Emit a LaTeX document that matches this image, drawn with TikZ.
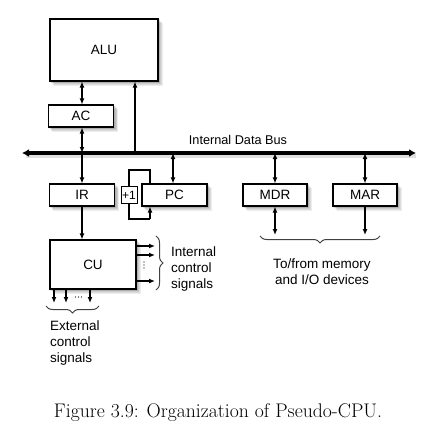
\documentclass[tikz,border=0pt]{standalone}
\usepackage{fontspec}
\newfontfamily\arial{Liberation Sans}
\usetikzlibrary{arrows.meta,backgrounds,decorations.pathreplacing}
\newcommand{\boxshadow}[1]{%
  \foreach \k in {1,1.8,2.6,3.4,4.2}{%
    \fill[black,opacity=0.07] ([shift={(\k,\k)}]#1.north west) rectangle ([shift={(\k,\k)}]#1.south east);}}
\begin{document}
\begin{tikzpicture}[x=1pt,y=-1pt,
  box/.style={draw=black,line width=1.1pt,fill=white,inner sep=0pt,
    font=\arial\fontsize{13.5}{16}\selectfont},
  conn/.style={line width=2pt,line cap=butt},
  tip/.style={-{Latex[length=6pt,width=5pt]}},
  dtip/.style={{Latex[length=6pt,width=5pt]}-{Latex[length=6pt,width=5pt]}},
  loopline/.style={line width=1.1pt},
  lbl/.style={font=\arial\fontsize{13.5}{16}\selectfont,inner sep=0pt},
  brc/.style={draw=black!75,line width=1pt,decorate,decoration={brace,amplitude=7pt}}]
\useasboundingbox (0,0) rectangle (435,436);
% boxes
\node[box,minimum width=108pt,minimum height=62pt] (alu) at (104,50) {ALU};
\node[box,minimum width=65pt,minimum height=22pt] (ac) at (81,116) {AC};
\node[box,minimum width=65pt,minimum height=22pt] (ir) at (82,195) {IR};
\node[box,minimum width=16pt,minimum height=17pt,font=\arial\fontsize{12}{14}\selectfont,line width=0.9pt] (inc) at (129,195) {+1};
\node[box,minimum width=65pt,minimum height=22pt] (pc) at (174.5,195) {PC};
\node[box,minimum width=64pt,minimum height=22pt] (mdr) at (275,195) {MDR};
\node[box,minimum width=64pt,minimum height=22pt] (mar) at (365,195) {MAR};
\node[box,minimum width=86pt,minimum height=49pt] (cu) at (93,264.5) {CU};
\begin{scope}[on background layer]
  \fill[white] (0,0) rectangle (435,436);
  \boxshadow{alu}\boxshadow{ac}\boxshadow{ir}\boxshadow{pc}
  \boxshadow{mdr}\boxshadow{mar}\boxshadow{cu}
\end{scope}
% bus
\coordinate (busL) at (22,153);
\coordinate (busR) at (416,153);
\draw[line width=4pt,black!12] (26,156) -- (416,156);
\draw[line width=4pt,{Latex[length=7pt,width=8pt]}-{Latex[length=7pt,width=8pt]}] (busL) -- (busR);
\node[lbl,font=\arial\fontsize{12.7}{15}\selectfont] (buslbl) at (238,140) {Internal Data Bus};
% connectors
\coordinate (bAC) at (82,153);
\coordinate (bALU) at (135,153);
\coordinate (bPC) at (173,153);
\coordinate (bMDR) at (275,153);
\coordinate (bMAR) at (365,153);
\draw[conn,dtip] (ac.north -| bAC) -- (alu.south -| bAC);
\draw[conn,dtip] (ac.south -| bAC) -- (bAC);
\draw[conn,tip] (bAC) -- (ir.north -| bAC);
\draw[conn,tip] (bALU) -- (alu.south -| bALU);
\draw[conn,dtip] (bPC) -- (pc.north -| bPC);
\draw[conn,dtip] (bMDR) -- (mdr.north);
\draw[conn,dtip] (bMAR) -- (mar.north);
\coordinate (mdrOut) at (275,235);
\coordinate (marOut) at (365,235);
\draw[conn,dtip] (mdr.south) -- (mdrOut);
\draw[conn,tip] (mar.south) -- (marOut);
\draw[conn,tip] (ir.south -| bAC) -- (cu.north -| bAC);
% +1 loop
\coordinate (lpA) at (150,170);
\coordinate (lpB) at (150,219);
\draw[loopline] (pc.north -| lpA) -- (lpA) -- (lpA -| inc.north) -- (inc.north);
\draw[loopline] (inc.south) -- (inc.south |- lpB) -- (lpB);
\draw[conn,tip] (lpB) -- (pc.south -| lpB);
% brace memory
\draw[brc] (380,236) -- (260,236);
\node[lbl,align=center] (memlbl) at (322,272) {To/from memory\\and I/O devices};
% CU internal signals
\coordinate (ci1) at (155,246);
\coordinate (ci2) at (155,255);
\coordinate (ci3) at (155,281);
\draw[line width=1.4pt,tip] (cu.east |- ci1) -- (ci1);
\draw[line width=1.4pt,tip] (cu.east |- ci2) -- (ci2);
\draw[line width=1.4pt,tip] (cu.east |- ci3) -- (ci3);
\foreach \yy in {262,265,268} \fill (144,\yy) circle (0.7pt);
\draw[brc] (156,236) -- (156,290);
\node[lbl,anchor=west,align=left] (intlbl) at (171,269) {Internal\\control\\signals};
% CU external signals
\coordinate (ce1) at (54,303);
\coordinate (ce2) at (66,303);
\coordinate (ce3) at (90,303);
\draw[line width=1.4pt,tip] (cu.south -| ce1) -- (ce1);
\draw[line width=1.4pt,tip] (cu.south -| ce2) -- (ce2);
\draw[line width=1.4pt,tip] (cu.south -| ce3) -- (ce3);
\foreach \xx in {75.5,78.5,81.5} \fill (\xx,297) circle (0.7pt);
\draw[brc] (99,306) -- (46,306);
\node[lbl,anchor=west,align=left] (extlbl) at (50,343) {External\\control\\signals};
% caption
\node[inner sep=0pt,font=\fontsize{19.7}{24}\selectfont] (cap) at (218,413) {Figure 3.9: Organization of Pseudo-CPU.};
\end{tikzpicture}
\end{document}
